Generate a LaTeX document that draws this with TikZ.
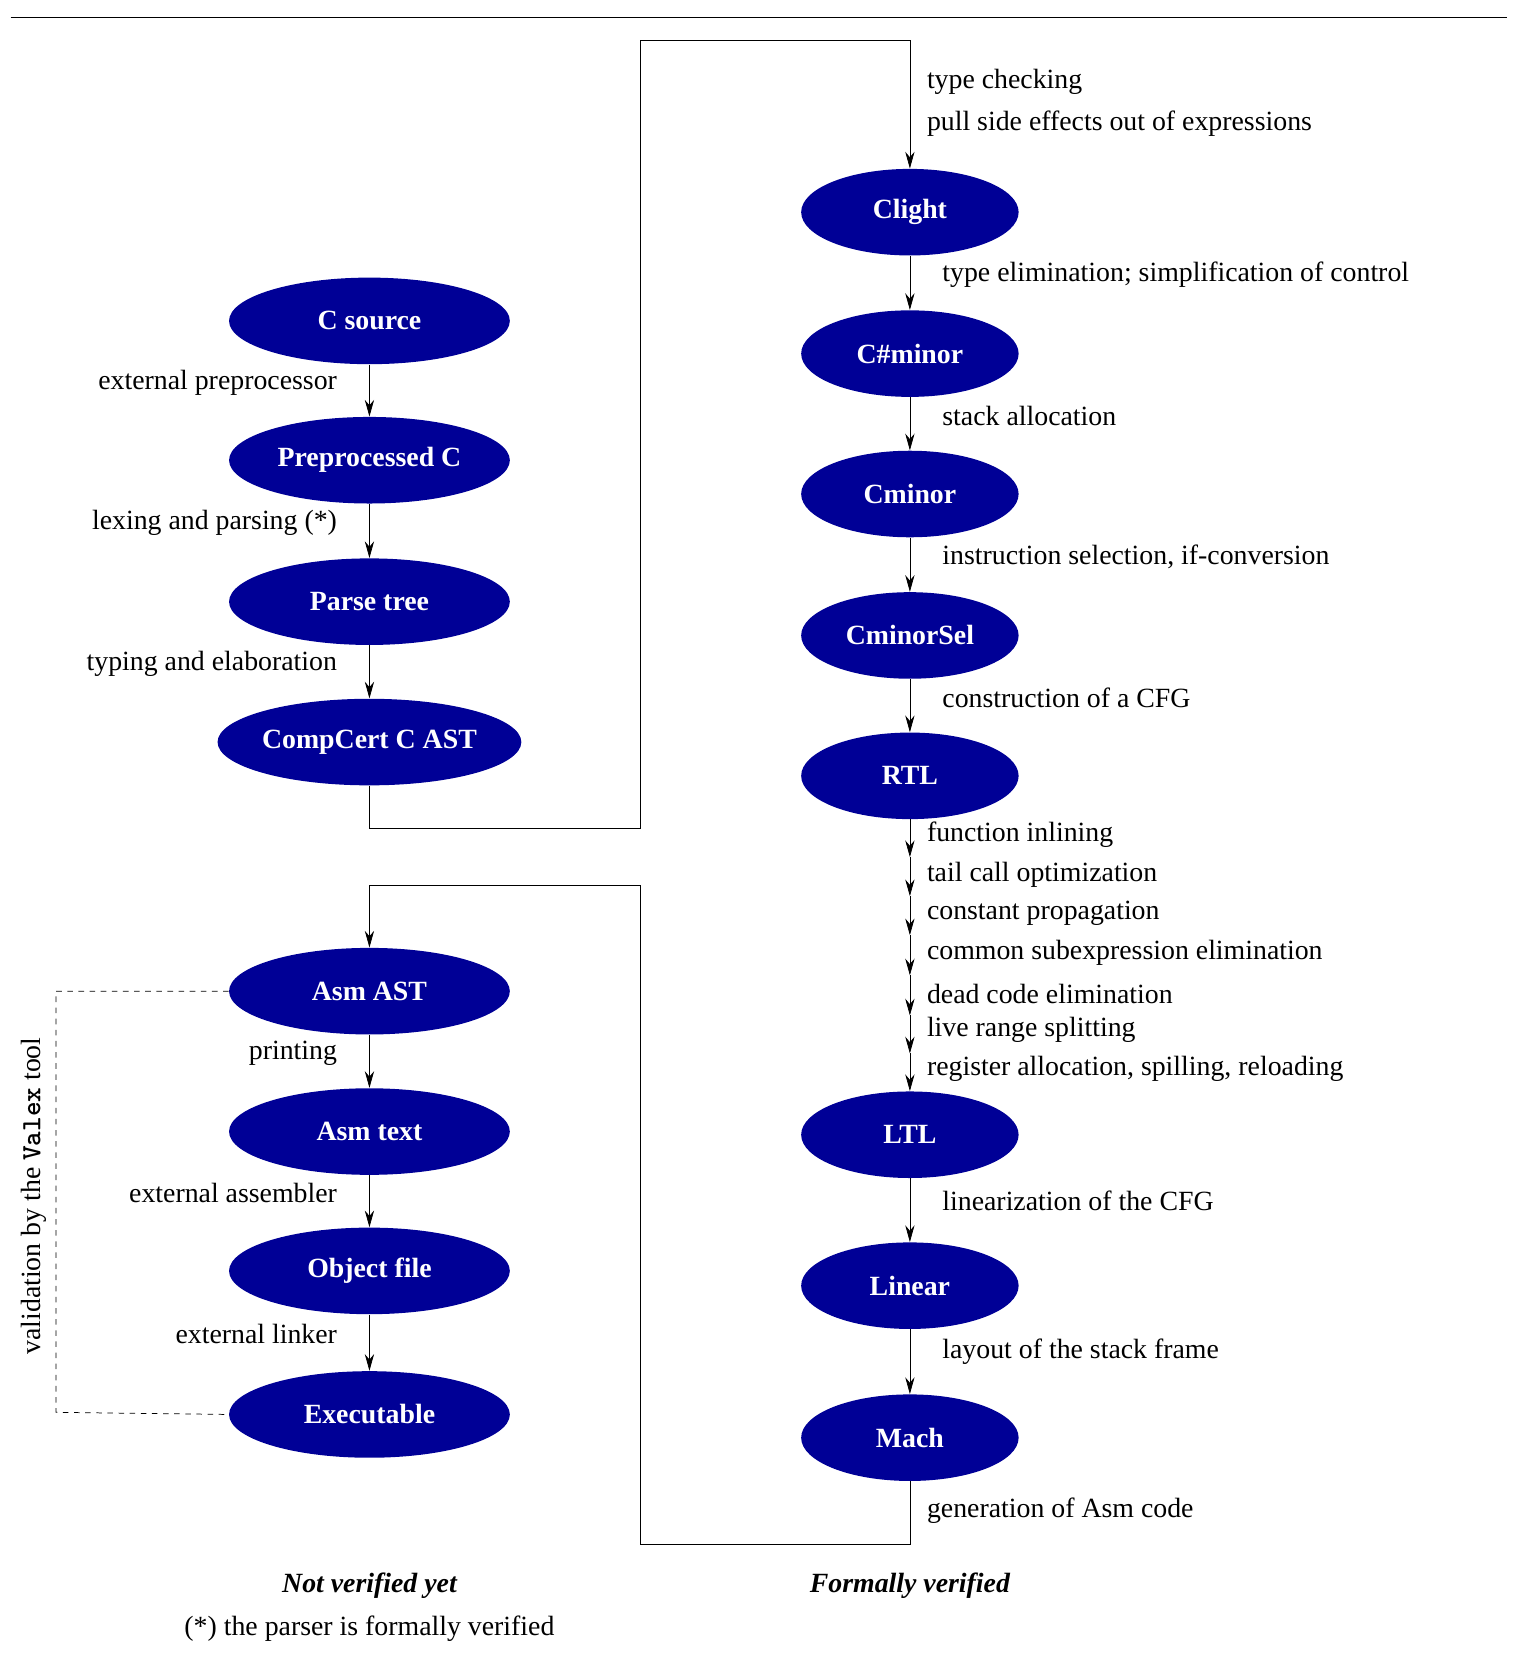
\documentclass[tikz,border=0pt]{standalone}
\usepackage{fontspec}
\setmainfont{Liberation Serif}
\usetikzlibrary{arrows.meta,shapes.geometric}
\definecolor{nodeblue}{RGB}{0,0,150}
\begin{document}
\begin{tikzpicture}[x=0.02cm,y=-0.02cm,
  every node/.style={font=\fontsize{15}{18}\selectfont},
  lnode/.style={ellipse,fill=nodeblue,text=white,font=\fontsize{15}{18}\selectfont\bfseries,minimum width=266*0.02cm,minimum height=82*0.02cm,inner sep=0pt},
  rnode/.style={lnode,minimum width=206*0.02cm},
  arr/.style={-{Stealth[length=9pt,width=5pt]},thin},
  rl/.style={anchor=west},
  ll/.style={anchor=east}]
\useasboundingbox (0,0) rectangle (1436,1566);
\draw (10,16) -- (1428,16);
% left nodes
\node[lnode] (cs) at (350,304) {C source};
\node[lnode] (pc) at (350,436) {Preprocessed C};
\node[lnode] (pt) at (350,570) {Parse tree};
\node[lnode] (cc) at (350,703) {CompCert C AST};
\node[lnode] (aa) at (350,939) {Asm AST};
\node[lnode] (at) at (350,1072) {Asm text};
\node[lnode] (of) at (350,1204) {Object file};
\node[lnode] (ex) at (350,1340) {Executable};
% right nodes
\node[rnode] (cl) at (862,201) {Clight};
\node[rnode] (csm) at (862,335) {C\#minor};
\node[rnode] (cm) at (862,468) {Cminor};
\node[rnode] (cms) at (862,602) {CminorSel};
\node[rnode] (rtl) at (862,735) {RTL};
\node[rnode] (ltl) at (862,1075) {LTL};
\node[rnode] (lin) at (862,1218) {Linear};
\node[rnode] (mach) at (862,1362) {Mach};
% left arrows
\draw[arr] (cs) -- (pc) node[ll,pos=0.35,xshift=-14pt] {external preprocessor};
\draw[arr] (pc) -- (pt) node[ll,pos=0.35,xshift=-14pt] {lexing and parsing (*)};
\draw[arr] (pt) -- (cc) node[ll,pos=0.35,xshift=-14pt] {typing and elaboration};
\draw[arr] (aa) -- (at) node[ll,pos=0.35,xshift=-14pt] {printing};
\draw[arr] (at) -- (of) node[ll,pos=0.35,xshift=-14pt] {external assembler};
\draw[arr] (of) -- (ex) node[ll,pos=0.35,xshift=-14pt] {external linker};
% right arrows
\draw[arr] (cl) -- (csm) node[rl,pos=0.35,xshift=14pt] {type elimination; simplification of control};
\draw[arr] (csm) -- (cm) node[rl,pos=0.35,xshift=14pt] {stack allocation};
\draw[arr] (cm) -- (cms) node[rl,pos=0.35,xshift=14pt] {instruction selection, if-conversion};
\draw[arr] (cms) -- (rtl) node[rl,pos=0.35,xshift=14pt] {construction of a CFG};
\draw[arr] (ltl) -- (lin) node[rl,pos=0.35,xshift=14pt] {linearization of the CFG};
\draw[arr] (lin) -- (mach) node[rl,pos=0.35,xshift=14pt] {layout of the stack frame};
% RTL chain
\coordinate (r1) at (862,812);
\coordinate (r2) at (862,849);
\coordinate (r3) at (862,886);
\coordinate (r4) at (862,924);
\coordinate (r5) at (862,962);
\coordinate (r6) at (862,998);
\draw[arr] (rtl) -- (r1);
\draw[arr] (r1) -- (r2);
\draw[arr] (r2) -- (r3);
\draw[arr] (r3) -- (r4);
\draw[arr] (r4) -- (r5);
\draw[arr] (r5) -- (r6);
\draw[arr] (r6) -- (ltl);
\node[rl] at (872,791) {function inlining};
\node[rl] at (872,829) {tail call optimization};
\node[rl] at (872,865) {constant propagation};
\node[rl] at (872,903) {common subexpression elimination};
\node[rl] at (872,942) {dead code elimination};
\node[rl] at (872,976) {live range splitting};
\node[rl] at (872,1013) {register allocation, spilling, reloading};
% long connectors
\coordinate (t1) at (350,785);
\coordinate (t2) at (607,785);
\coordinate (t3) at (607,38);
\coordinate (t4) at (862,38);
\draw[arr] (cc) -- (t1) -- (t2) -- (t3) -- (t4) -- (cl);
\node[rl] at (872,78) {type checking};
\node[rl] at (872,117) {pull side effects out of expressions};
\coordinate (b1) at (862,1463);
\coordinate (b2) at (607,1463);
\coordinate (b3) at (607,839);
\coordinate (b4) at (350,839);
\draw[arr] (mach) -- (b1) -- (b2) -- (b3) -- (b4) -- (aa);
\node[rl] at (872,1431) {generation of Asm code};
% dashed validation
\coordinate (d1) at (53,939);
\coordinate (d2) at (53,1338);
\draw[dashed] (aa.west) -- (d1) -- (d2) -- (ex.west);
\node[rotate=90] at (32,1133) {validation by the \texttt{\bfseries Valex} tool};
% bottom captions
\node[font=\fontsize{15}{18}\selectfont\bfseries\itshape] at (350,1502) {Not verified yet};
\node[font=\fontsize{15}{18}\selectfont\bfseries\itshape] at (862,1502) {Formally verified};
\node at (350,1543) {(*) the parser is formally verified};
\end{tikzpicture}
\end{document}
